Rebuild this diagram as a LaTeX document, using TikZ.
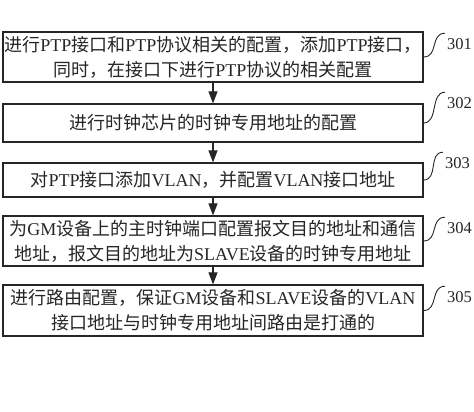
\documentclass[tikz,border=0pt]{standalone}
\usepackage{fontspec}
\setmainfont{Liberation Serif}
\newfontfamily\cjk{Noto Sans CJK SC}
\newcommand\zh[1]{{\cjk #1}}
\usetikzlibrary{arrows.meta}
\definecolor{ink}{HTML}{262626}
\tikzset{
  stepbox/.style={draw=ink, line width=1.2pt, minimum width=420pt, align=center,
    inner sep=0pt, text=ink, font=\fontsize{18}{25}\selectfont},
  arr/.style={draw=ink, line width=1.1pt, -{Triangle[width=9pt,length=12pt]}},
  lbl/.style={anchor=west, inner sep=0pt, text=ink, font=\fontsize{16.5}{16.5}\selectfont},
  sq/.style={draw=ink, line width=0.9pt}
}
\begin{document}
\begin{tikzpicture}
\useasboundingbox (0pt,0pt) rectangle (474pt,-412pt);
\fill[white] (0pt,0pt) rectangle (474pt,-412pt);

\node[stepbox, minimum height=50pt] (b1) at (213pt,-57pt)
  {\zh{进行}PTP\zh{接口和}PTP\zh{协议相关的配置，添加}PTP\zh{接口，}\\\zh{同时，在接口下进行}PTP\zh{协议的相关配置}};
\node[stepbox, minimum height=38pt] (b2) at (213pt,-123pt)
  {\zh{进行时钟芯片的时钟专用地址的配置}};
\node[stepbox, minimum height=34pt] (b3) at (213pt,-180pt)
  {\zh{对}PTP\zh{接口添加}VLAN\zh{，并配置}VLAN\zh{接口地址}};
\node[stepbox, minimum height=50pt] (b4) at (213pt,-241pt)
  {\zh{为}GM\zh{设备上的主时钟端口配置报文目的地址和通信}\\\zh{地址，报文目的地址为}SLAVE\zh{设备的时钟专用地址}};
\node[stepbox, minimum height=51pt] (b5) at (213pt,-310.5pt)
  {\zh{进行路由配置，保证}GM\zh{设备和}SLAVE\zh{设备的}VLAN\\\zh{接口地址与时钟专用地址间路由是打通的}};

\draw[arr] (b1.south) -- (b2.north);
\draw[arr] (b2.south) -- (b3.north);
\draw[arr] (b3.south) -- (b4.north);
\draw[arr] (b4.south) -- (b5.north);

\node[lbl] (l1) at (447pt,-44pt) {301};
\node[lbl] (l2) at (447pt,-103pt) {302};
\node[lbl] (l3) at (445pt,-163pt) {303};
\node[lbl] (l4) at (447pt,-228pt) {304};
\node[lbl] (l5) at (447pt,-297pt) {305};

\foreach \i in {1,...,5}{
  \coordinate (e\i) at ([xshift=-2pt,yshift=5pt]l\i.north west);
  \draw[sq] (b\i.east) .. controls +(15pt,0pt) and +(-15pt,0pt) .. (e\i);
}
\end{tikzpicture}
\end{document}
